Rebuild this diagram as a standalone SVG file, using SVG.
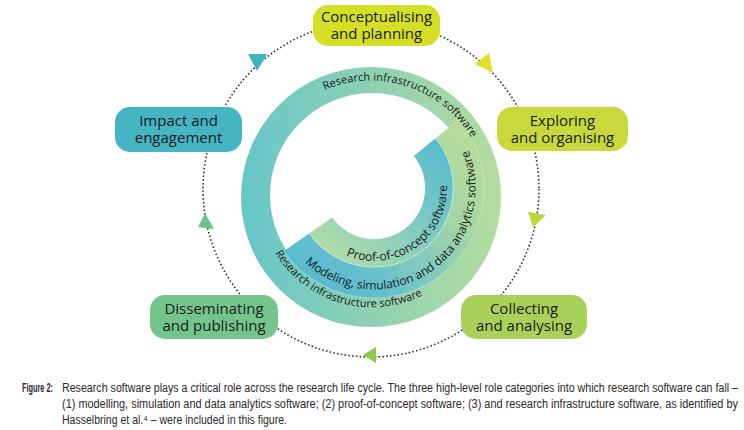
<svg xmlns="http://www.w3.org/2000/svg" xmlns:xlink="http://www.w3.org/1999/xlink" width="744" height="430" viewBox="0 0 744 430">
<defs>
<style>
.box text{font-family:"Open Sans","Noto Sans",sans-serif;font-size:15px;fill:#1a1a1a;text-anchor:middle}
.ring{font-family:"Open Sans","Noto Sans",sans-serif;font-size:11px;fill:#1a1a1a}
.cap{font-family:"Liberation Sans","Arial",sans-serif;font-size:12px;fill:#2a2a2a}
.dots{fill:none;stroke:#333;stroke-width:1.6;stroke-dasharray:1.6 2.2}
</style>
<linearGradient id="gOuter" x1="0" y1="0" x2="1" y2="0">
<stop offset="0" stop-color="#66c6c9"/>
<stop offset="1" stop-color="#b5dc9e"/>
</linearGradient>
<linearGradient id="gModel" x1="1" y1="0" x2="0" y2="1">
<stop offset="0" stop-color="#bcdd98"/>
<stop offset="0.35" stop-color="#a6d6a6"/>
<stop offset="0.75" stop-color="#62bfd0"/>
<stop offset="1" stop-color="#50b6cb"/>
</linearGradient>
<linearGradient id="gProof" x1="1" y1="0" x2="0" y2="1">
<stop offset="0" stop-color="#52b9ce"/>
<stop offset="0.45" stop-color="#7ccbc4"/>
<stop offset="1" stop-color="#bfe0a0"/>
</linearGradient>
<path id="pTop" d="M 258.8 160.5 A 118 118 0 0 1 483.2 233.5"/>
<path id="pBot" d="M 262.4 165.9 A 113 113 0 0 0 479.6 228.1"/>
<path id="pProof" d="M 314.2 229.87 A 73 73 0 0 0 433.8 146.13"/>
<path id="pModel" d="M 289.94 245.77 A 102 102 0 0 0 458.06 130.23"/>
</defs>

<g id="connectors">
<circle class="dots" cx="371" cy="189" r="168"/>
<polygon points="248,54 267,54 257,71" fill="#3cb4c4"/>
<polygon points="475,64 489,53 493,73" fill="#dde227"/>
<polygon points="528,212 546,215 533,227" fill="#bdd63a"/>
<polygon points="363,355 376,347 376,363" fill="#8ec94e"/>
<polygon points="205,213 198,227 214,229" fill="#6cc28a"/>
</g>

<g id="rings">
<path d="M 241 197 A 130 130 0 1 0 501 197 A 130 130 0 1 0 241 197 Z M 270 195 A 102 102 0 1 0 474 195 A 102 102 0 1 0 270 195 Z" fill="url(#gOuter)" fill-rule="evenodd"/>
<path d="M 459.48 118.78 A 110 110 0 1 1 283.89 251.10 L 309.28 233.31 A 79 79 0 1 0 435.39 138.29 Z" fill="url(#gModel)" stroke="#ffffff" stroke-opacity="0.35" stroke-width="0.8"/>
<path d="M 435.39 138.29 A 79 79 0 1 1 309.28 233.31 L 332.22 217.25 A 51 51 0 1 0 413.63 155.91 Z" fill="url(#gProof)" stroke="#ffffff" stroke-opacity="0.35" stroke-width="0.8"/>
<text class="ring"><textPath href="#pTop" xlink:href="#pTop" startOffset="50%" text-anchor="middle">Research infrastructure software</textPath></text>
<text class="ring"><textPath href="#pBot" xlink:href="#pBot" startOffset="50%" text-anchor="middle">Research infrastructure software</textPath></text>
<text class="ring" style="font-size:12px"><textPath href="#pProof" xlink:href="#pProof" startOffset="50%" text-anchor="middle">Proof-of-concept software</textPath></text>
<text class="ring" style="font-size:12px"><textPath href="#pModel" xlink:href="#pModel" startOffset="50%" text-anchor="middle">Modeling, simulation and data analytics software</textPath></text>
</g>

<g id="n-conceptualising" class="box">
<rect x="313" y="5" width="127" height="41" rx="15" fill="#d5df26"/>
<text x="376.5" y="22">Conceptualising</text>
<text x="376.5" y="39">and planning</text>
</g>
<g id="n-exploring" class="box">
<rect x="497" y="107" width="131" height="44" rx="15" fill="#c8da3b"/>
<text x="562.5" y="125.5">Exploring</text>
<text x="562.5" y="143">and organising</text>
</g>
<g id="n-collecting" class="box">
<rect x="461" y="295" width="126" height="44" rx="15" fill="#a9d15a"/>
<text x="524" y="313.5">Collecting</text>
<text x="524" y="331">and analysing</text>
</g>
<g id="n-disseminating" class="box">
<rect x="150" y="295" width="128" height="44" rx="15" fill="#74c58c"/>
<text x="214" y="313.5">Disseminating</text>
<text x="214" y="331">and publishing</text>
</g>
<g id="n-impact" class="box">
<rect x="115" y="107" width="127" height="45" rx="15" fill="#45b5c4"/>
<text x="178.5" y="125.5">Impact and</text>
<text x="178.5" y="143">engagement</text>
</g>

<g id="caption">
<text class="cap" x="22" y="392" font-weight="bold" font-size="12.5" textLength="31" lengthAdjust="spacingAndGlyphs">Figure 2:</text>
<text class="cap" x="62" y="392" textLength="676" lengthAdjust="spacingAndGlyphs">Research software plays a critical role across the research life cycle. The three high-level role categories into which research software can fall –</text>
<text class="cap" x="62" y="408" textLength="676" lengthAdjust="spacingAndGlyphs">(1) modelling, simulation and data analytics software; (2) proof-of-concept software; (3) and research infrastructure software, as identified by</text>
<text class="cap" x="62" y="424" textLength="225" lengthAdjust="spacingAndGlyphs">Hasselbring et al.⁴ – were included in this figure.</text>
</g>
</svg>
